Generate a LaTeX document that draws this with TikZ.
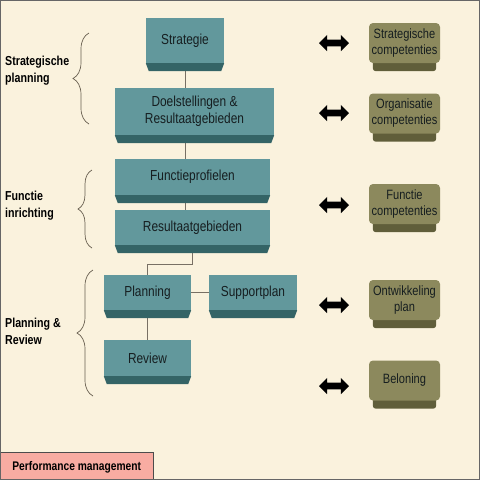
\documentclass[tikz,border=0pt]{standalone}
\usepackage{fontspec}
\setmainfont{Liberation Sans}[FakeStretch=0.82]
\usetikzlibrary{shapes.arrows,decorations.pathreplacing}
\definecolor{paper}{RGB}{250,242,221}
\definecolor{tealface}{RGB}{98,152,156}
\definecolor{tealdark}{RGB}{52,100,102}
\definecolor{oliveface}{RGB}{140,137,93}
\definecolor{olivedark}{RGB}{96,94,58}
\definecolor{pinkbox}{RGB}{248,172,162}
\definecolor{linkgray}{RGB}{120,112,100}
\definecolor{bracegray}{RGB}{105,96,80}
\definecolor{inkdark}{RGB}{22,30,32}
\pgfdeclarelayer{back}\pgfdeclarelayer{mid}
\pgfsetlayers{back,mid,main}
\tikzset{
	tealbox/.style={fill=tealface,inner sep=0pt,align=center,text=inkdark,font=\fontsize{14.5}{17}\selectfont},
	olivebox/.style={fill=oliveface,rounded corners=4pt,inner sep=0pt,align=center,text=inkdark,
		minimum width=71,minimum height=40,font=\fontsize{13.5}{16}\selectfont},
	sidelabel/.style={anchor=west,align=left,inner sep=0pt,font=\bfseries\fontsize{13}{17}\selectfont},
	biarrow/.style={double arrow,fill=black,inner xsep=0pt,inner ysep=3.25pt,
		double arrow head extend=4.75pt,minimum height=30},
	link/.style={draw=linkgray,line width=0.8pt},
	curly/.style={decorate,decoration={brace,amplitude=#1},draw=bracegray,line width=0.7pt}
}
\begin{document}
\begin{tikzpicture}[x=1pt,y=-1pt]
	\useasboundingbox (0,0) rectangle (480,480);
	\begin{pgfonlayer}{back}
		\fill [paper] (0,0) rectangle (480,480);
	\end{pgfonlayer}
	% teal blocks
	\node [tealbox,minimum width=78,minimum height=45] at (185,40.5) (strat) {Strategie};
	\node [tealbox,minimum width=159,minimum height=47] at (194.5,111.5) (doel) {Doelstellingen \&\\Resultaatgebieden};
	\node [tealbox,minimum width=155,minimum height=36] at (192.5,177) (func) {Functieprofielen};
	\node [tealbox,minimum width=155,minimum height=35] at (192.5,227.5) (res) {Resultaatgebieden};
	\node [tealbox,minimum width=87,minimum height=35] at (147.5,292.5) (plan) {Planning};
	\node [tealbox,minimum width=88,minimum height=35] at (253,292.5) (support) {Supportplan};
	\node [tealbox,minimum width=87,minimum height=36] at (147.5,358) (review) {Review};
	\foreach \n in {strat,doel,func,res,plan,support,review}{
		\fill [tealdark] (\n.south west) -- (\n.south east) -- ++(-3,8) -- ([xshift=3pt,yshift=-8pt]\n.south west) -- cycle;
	}
	\coordinate (split) at (147.5,264);
	\begin{pgfonlayer}{mid}
		\draw [link] (strat) -- (strat |- res.center);
		\draw [link] (res) |- (split) -- (plan);
		\draw [link] (plan) -- (support) (plan) -- (review);
	\end{pgfonlayer}
	% competences on the right
	\foreach \y/\l/\t in {43/strcomp/{Strategische\\competenties}, 113.5/orgcomp/{Organisatie\\competenties},
		204/funccomp/{Functie\\competenties}, 300/ontw/{Ontwikkeling\\plan}, 380.5/belon/{Beloning}}{
		\node [olivebox] at (404.5,\y) (\l) {\t};
		\begin{pgfonlayer}{mid}
			\fill [olivedark,rounded corners=3pt] ([xshift=4pt,yshift=5pt]\l.south west) rectangle ([xshift=-4pt,yshift=-8pt]\l.south east);
		\end{pgfonlayer}
	}
	\foreach \y/\l in {43/a1, 113/a2, 205/a3, 305/a4, 386/a5}{
		\node [biarrow] at (334,\y) (\l) {};
	}
	% braces and phases
	\draw [curly=16pt] (89,124) -- (89,33);
	\draw [curly=14pt] (92,248) -- (92,170);
	\draw [curly=16pt] (93,396) -- (93,270);
	\node [sidelabel] at (5,71) (phase1) {Strategische\\planning};
	\node [sidelabel] at (5,206) (phase2) {Functie\\inrichting};
	\node [sidelabel] at (5,331) (phase3) {Planning \&\\Review};
	\node [draw=black!70,fill=pinkbox,anchor=north west,minimum width=153,minimum height=30,
		font=\bfseries\fontsize{12.5}{15}\selectfont] at (0,452) (perf) {Performance management};
	\draw [black!60,line width=1.5pt] (0,0) rectangle (480,480);
\end{tikzpicture}
\end{document}
